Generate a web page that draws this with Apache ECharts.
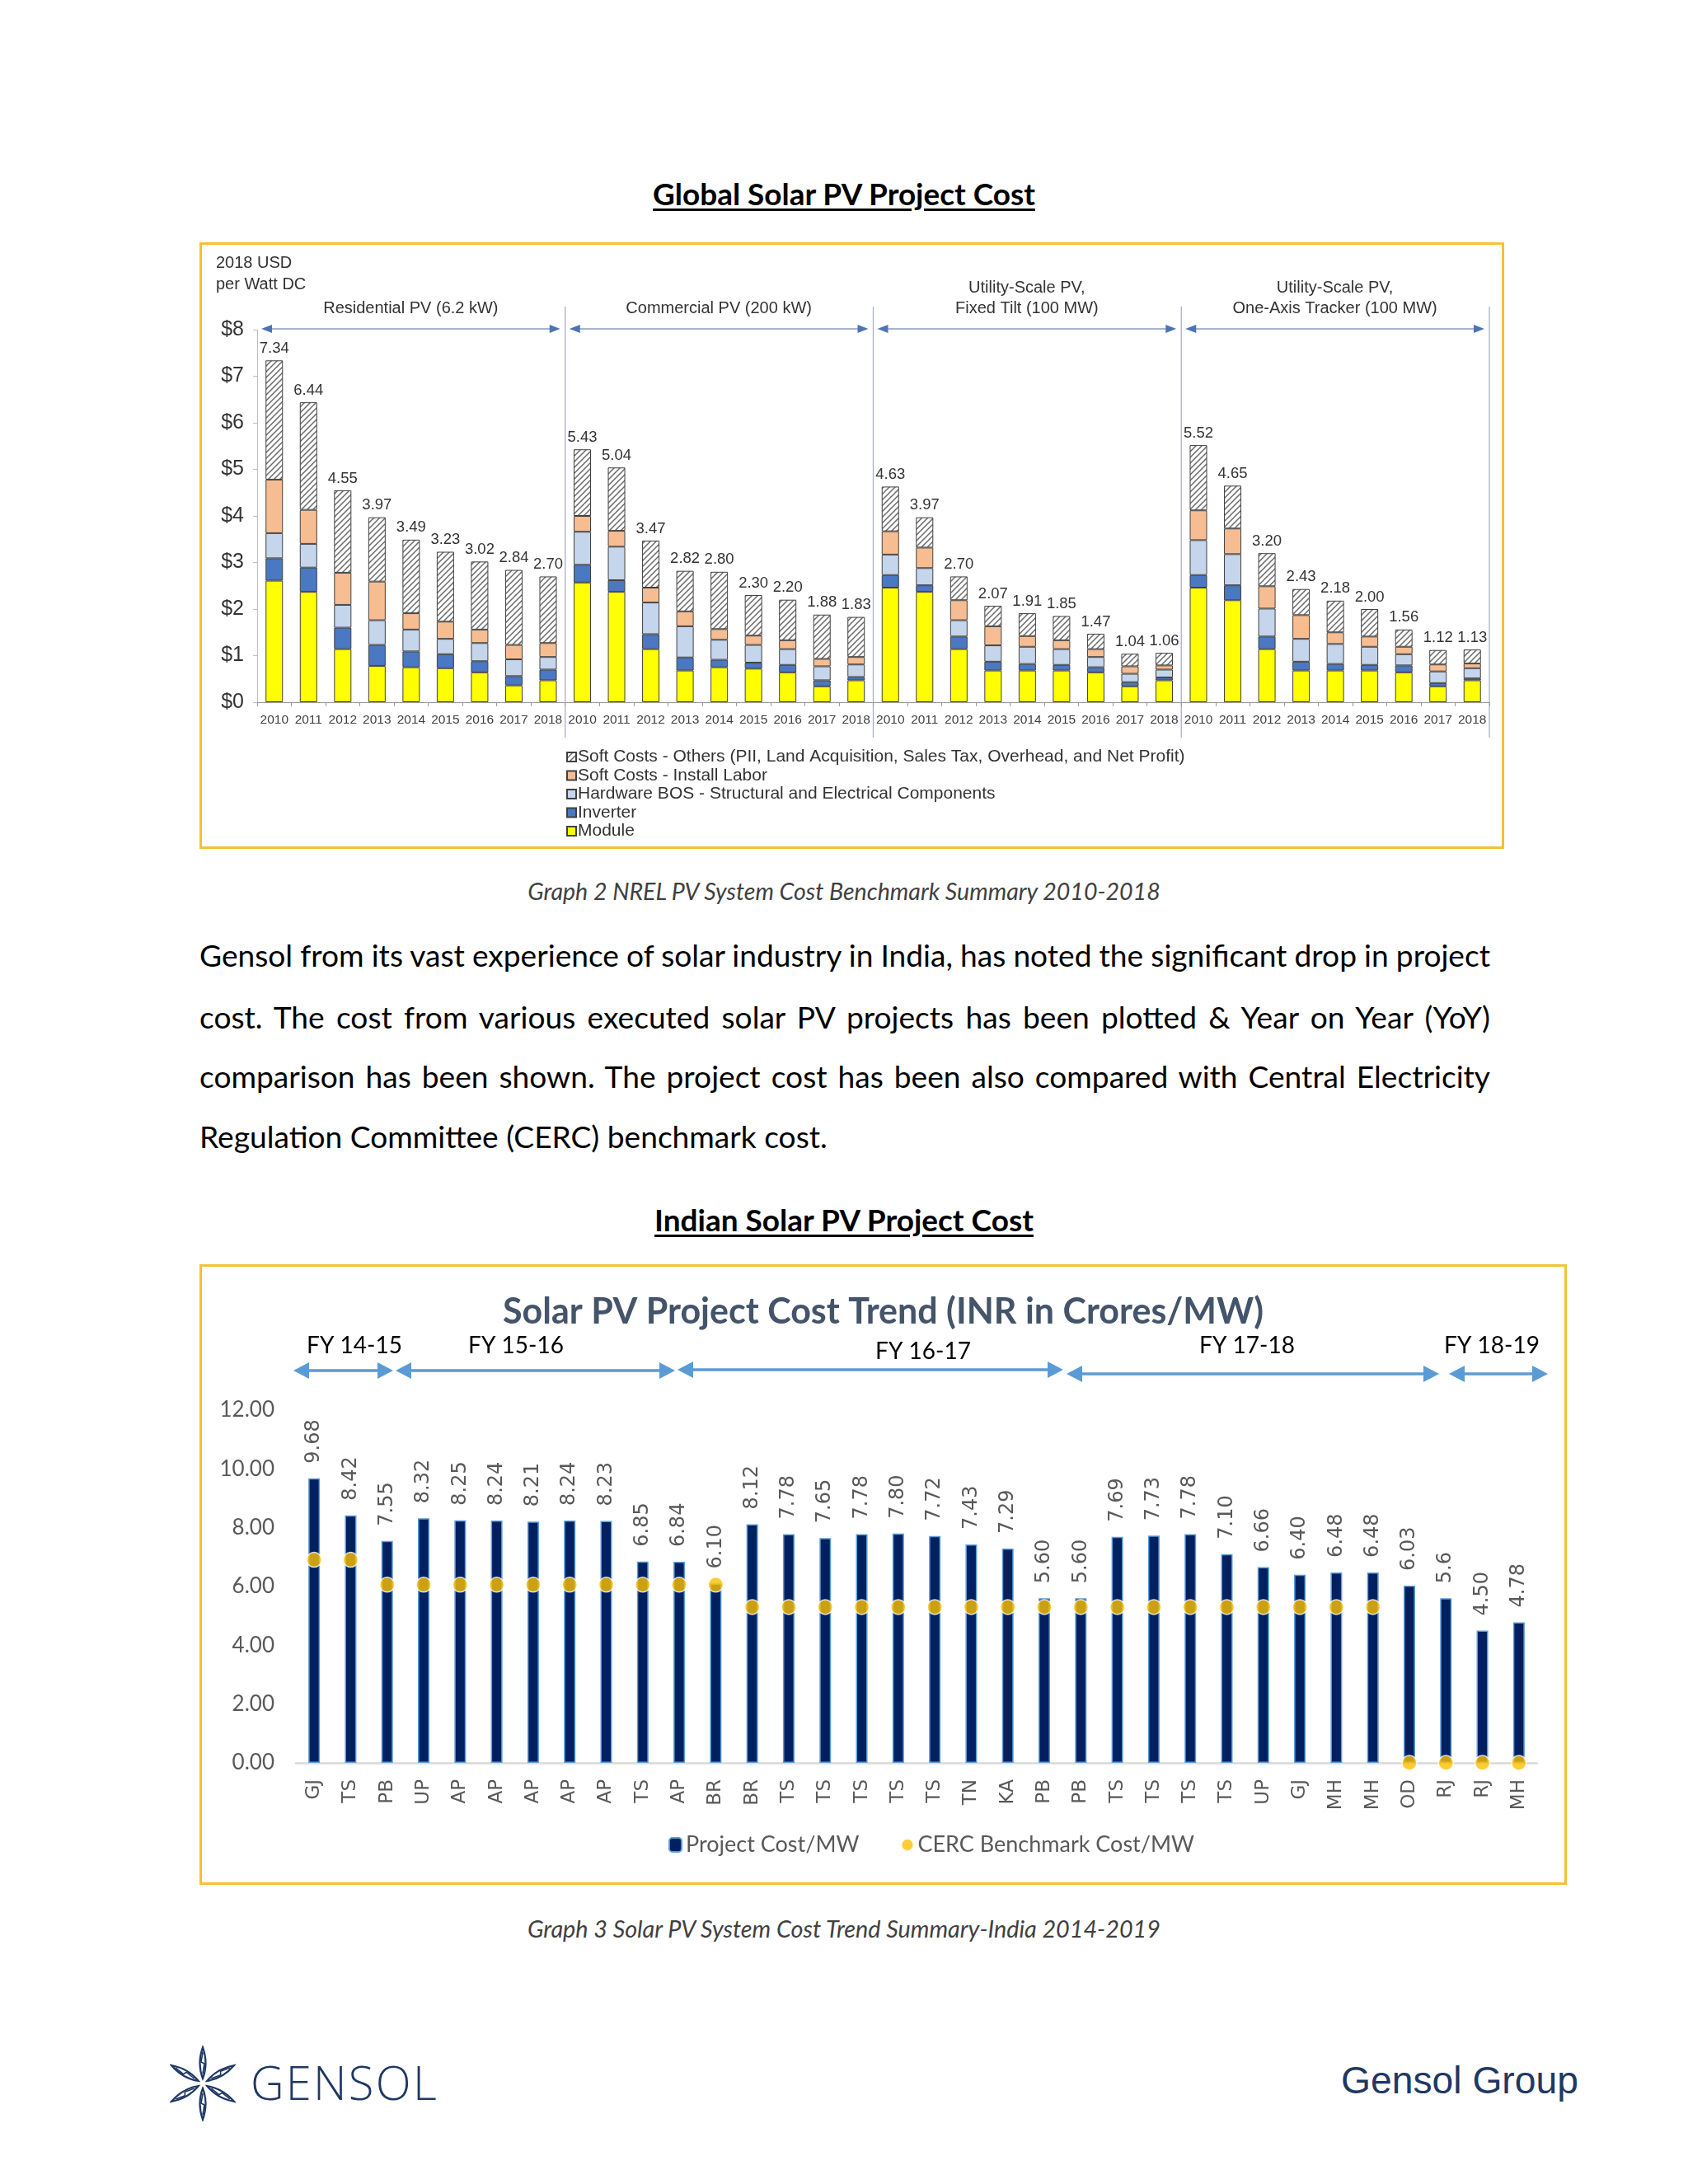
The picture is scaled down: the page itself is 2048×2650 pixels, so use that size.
<!DOCTYPE html>
<html><head><meta charset="utf-8">
<script src="https://cdn.jsdelivr.net/npm/echarts@6/dist/echarts.min.js"></script>
<style>
html,body{margin:0;padding:0;background:#fff;}
body{width:2048px;height:2650px;position:relative;overflow:hidden;}
.abs{position:absolute;}
.frame{position:absolute;border:3px solid #F3C233;box-sizing:border-box;pointer-events:none;}
</style></head>
<body>
<div id="c1" class="abs" style="left:242px;top:294px;width:1583px;height:736px"></div>
<div class="frame" style="left:242px;top:294px;width:1583px;height:736px"></div>
<div id="c2" class="abs" style="left:242px;top:1534px;width:1659px;height:753px"></div>
<div class="frame" style="left:242px;top:1534px;width:1659px;height:753px"></div>
<svg class="abs" style="left:206px;top:2482px" width="80" height="92" viewBox="-40 -46 80 92">
  <g fill="#fff" stroke="#1F3864" stroke-width="2.2">
    <path d="M0,-6 Q7,-24 0,-44 Q-7,-24 0,-6Z"/>
    <path d="M0,-6 Q7,-24 0,-44 Q-7,-24 0,-6Z" transform="rotate(60)"/>
    <path d="M0,-6 Q7,-24 0,-44 Q-7,-24 0,-6Z" transform="rotate(120)"/>
    <path d="M0,-6 Q7,-24 0,-44 Q-7,-24 0,-6Z" transform="rotate(180)"/>
    <path d="M0,-6 Q7,-24 0,-44 Q-7,-24 0,-6Z" transform="rotate(240)"/>
    <path d="M0,-6 Q7,-24 0,-44 Q-7,-24 0,-6Z" transform="rotate(300)"/>
  </g>
  <g fill="none" stroke="#1F3864" stroke-width="1.6">
    <path d="M0,-12 L2,-24 L-2,-26 L0,-38"/>
    <path d="M0,-12 L2,-24 L-2,-26 L0,-38" transform="rotate(60)"/>
    <path d="M0,-12 L2,-24 L-2,-26 L0,-38" transform="rotate(120)"/>
    <path d="M0,-12 L2,-24 L-2,-26 L0,-38" transform="rotate(180)"/>
    <path d="M0,-12 L2,-24 L-2,-26 L0,-38" transform="rotate(240)"/>
    <path d="M0,-12 L2,-24 L-2,-26 L0,-38" transform="rotate(300)"/>
  </g>
</svg>
<script>
// ---------- Top chart data (NREL benchmark, 2018 USD per Watt DC) ----------
const years = ['2010','2011','2012','2013','2014','2015','2016','2017','2018'];
const segmentNames = ['Residential PV (6.2 kW)','Commercial PV (200 kW)','Utility-Scale PV,\nFixed Tilt (100 MW)','Utility-Scale PV,\nOne-Axis Tracker (100 MW)'];
const moduleCost   = [2.61,2.37,1.14,0.78,0.75,0.73,0.64,0.36,0.47, 2.57,2.37,1.14,0.68,0.75,0.72,0.64,0.34,0.47, 2.46,2.37,1.14,0.68,0.68,0.68,0.64,0.34,0.47, 2.46,2.19,1.14,0.68,0.68,0.68,0.64,0.34,0.47];
const inverterCost = [0.48,0.52,0.46,0.45,0.34,0.30,0.24,0.20,0.23, 0.38,0.25,0.32,0.28,0.16,0.13,0.16,0.13,0.07, 0.27,0.14,0.27,0.19,0.14,0.12,0.11,0.09,0.06, 0.27,0.32,0.27,0.19,0.14,0.12,0.15,0.07,0.04];
const bosCost      = [0.54,0.51,0.49,0.53,0.47,0.33,0.39,0.36,0.27, 0.71,0.72,0.68,0.67,0.43,0.38,0.34,0.30,0.27, 0.44,0.37,0.35,0.35,0.37,0.34,0.22,0.18,0.17, 0.75,0.67,0.60,0.49,0.43,0.39,0.24,0.25,0.22];
const laborCost    = [1.15,0.73,0.69,0.83,0.35,0.37,0.29,0.31,0.30, 0.34,0.34,0.32,0.32,0.23,0.20,0.19,0.16,0.16, 0.50,0.44,0.43,0.41,0.23,0.19,0.17,0.16,0.09, 0.64,0.55,0.48,0.51,0.25,0.22,0.16,0.15,0.10];
const otherSoftCost= [2.56,2.31,1.77,1.38,1.58,1.50,1.46,1.61,1.43, 1.43,1.36,1.01,0.87,1.23,0.87,0.87,0.95,0.86, 0.96,0.65,0.51,0.44,0.49,0.52,0.33,0.27,0.27, 1.40,0.92,0.71,0.56,0.68,0.59,0.37,0.31,0.30];
const totalCost    = [7.34,6.44,4.55,3.97,3.49,3.23,3.02,2.84,2.70, 5.43,5.04,3.47,2.82,2.80,2.30,2.20,1.88,1.83, 4.63,3.97,2.70,2.07,1.91,1.85,1.47,1.04,1.06, 5.52,4.65,3.20,2.43,2.18,2.00,1.56,1.12,1.13];
const usdTicks = [0,1,2,3,4,5,6,7,8];
const legendNames1 = ['Soft Costs - Others (PII, Land Acquisition, Sales Tax, Overhead, and Net Profit)','Soft Costs - Install Labor','Hardware BOS - Structural and Electrical Components','Inverter','Module'];

// ---------- Bottom chart data (INR Crores/MW) ----------
const states = ['GJ','TS','PB','UP','AP','AP','AP','AP','AP','TS','AP','BR','BR','TS','TS','TS','TS','TS','TN','KA','PB','PB','TS','TS','TS','TS','UP','GJ','MH','MH','OD','RJ','RJ','MH'];
const projectCost = [9.68,8.42,7.55,8.32,8.25,8.24,8.21,8.24,8.23,6.85,6.84,6.10,8.12,7.78,7.65,7.78,7.80,7.72,7.43,7.29,5.60,5.60,7.69,7.73,7.78,7.10,6.66,6.40,6.48,6.48,6.03,5.6,4.50,4.78];
const projectCostLabels = ['9.68','8.42','7.55','8.32','8.25','8.24','8.21','8.24','8.23','6.85','6.84','6.10','8.12','7.78','7.65','7.78','7.80','7.72','7.43','7.29','5.60','5.60','7.69','7.73','7.78','7.10','6.66','6.40','6.48','6.48','6.03','5.6','4.50','4.78'];
const cercBenchmark = [6.91,6.91,6.06,6.06,6.06,6.06,6.06,6.06,6.06,6.06,6.06,6.06,5.30,5.30,5.30,5.30,5.30,5.30,5.30,5.30,5.30,5.30,5.30,5.30,5.30,5.30,5.30,5.30,5.30,5.30,0,0,0,0];
const fyLabels = ['FY 14-15','FY 15-16','FY 16-17','FY 17-18','FY 18-19'];

// ---------- page text ----------
function addText(txt, o){
  const d=document.createElement('div');
  d.textContent=txt;
  d.style.cssText='position:absolute;white-space:nowrap;line-height:1.2;font-size:100px;font-family:'+o.font+';font-weight:'+(o.weight||400)+';font-style:'+(o.style||'normal')+';color:'+o.color+';letter-spacing:'+(o.ls||0)+'em;';
  document.body.appendChild(d);
  let fs=o.size;
  if(o.w){ const w0=d.getBoundingClientRect().width; fs=100*o.w/w0; }
  d.style.fontSize=fs+'px';
  const r=d.getBoundingClientRect();
  d.style.left=(o.align==='center'? o.x-r.width/2 : o.x)+'px';
  d.style.top=(o.y-r.height/2)+'px';
  if(o.ul){ d.style.textDecoration='underline'; d.style.textUnderlineOffset='0.12em'; }
  return {el:d, fs:fs};
}
addText('Global Solar PV Project Cost',{x:1024,y:235,w:464,font:'Lato',weight:700,color:'#000',align:'center',ul:true});
addText('Graph 2 NREL PV System Cost Benchmark Summary 2010-2018',{x:1024,y:1081,w:768,font:'Lato',style:'italic',color:'#404040',align:'center'});
addText('Indian Solar PV Project Cost',{x:1024,y:1480,w:460,font:'Lato',weight:700,color:'#000',align:'center',ul:true});
addText('Graph 3 Solar PV System Cost Trend Summary-India 2014-2019',{x:1024,y:2340,w:768,font:'Lato',style:'italic',color:'#404040',align:'center'});
addText('GENSOL',{x:304,y:2527,w:228,font:'"Open Sans"',weight:300,color:'#1F3864',ls:0.04});
addText('Gensol Group',{x:1627,y:2525,w:288,font:'"Liberation Sans"',color:'#1F3864'});

const paraLines=['Gensol from its vast experience of solar industry in India, has noted the significant drop in project',
 'cost. The cost from various executed solar PV projects has been plotted & Year on Year (YoY)',
 'comparison has been shown. The project cost has been also compared with Central Electricity',
 'Regulation Committee (CERC) benchmark cost.'];
const paraY=[1159,1234,1306,1379];
(function(){
  const last=addText(paraLines[3],{x:242,y:paraY[3],w:762,font:'Lato',color:'#000'});
  const fs=last.fs;
  for(let i=0;i<3;i++){
    const t=addText(paraLines[i],{x:242,y:paraY[i],size:fs,font:'Lato',color:'#000'});
    const w=t.el.getBoundingClientRect().width;
    const n=(paraLines[i].match(/ /g)||[]).length;
    t.el.style.wordSpacing=((1566-w)/n)+'px';
  }
})();

// ---------- Top chart ----------
function hatchCanvas(){
  const c=document.createElement('canvas'); c.width=7; c.height=7;
  const g=c.getContext('2d'); g.fillStyle='#fff'; g.fillRect(0,0,7,7);
  g.strokeStyle='#6a6a6a'; g.lineWidth=1.5; g.beginPath();
  g.moveTo(0,7); g.lineTo(7,0); g.moveTo(-1,1); g.lineTo(1,-1); g.moveTo(6,8); g.lineTo(8,6); g.stroke();
  return c;
}
const hatch={image:hatchCanvas(),repeat:'repeat'};
const G1={left:70,top:106,width:1495,height:452};
const step1=G1.width/36;
const cats1=[].concat(years,years,years,years);
const F1='"Liberation Sans", Arial, sans-serif';
const segStyle=(c)=>({color:c,borderColor:'#404040',borderWidth:1});
const gfx1=[];
gfx1.push({type:'text',x:20,y:12,style:{text:'2018 USD\nper Watt DC',fontSize:20,fontFamily:F1,fill:'#333',align:'left',verticalAlign:'top',lineHeight:26},silent:true});
[9,18,27,36].forEach(k=>{
  const x=G1.left+k*step1;
  gfx1.push({type:'line',shape:{x1:x,y1:78,x2:x,y2:601},style:{stroke:'#A9B1C2',lineWidth:1.3},silent:true});
});
segmentNames.forEach((nm,g)=>{
  const xl=G1.left+g*9*step1+5, xr=G1.left+(g+1)*9*step1-6, y=105;
  gfx1.push({type:'line',shape:{x1:xl+6,y1:y,x2:xr-6,y2:y},style:{stroke:'#A5B4CF',lineWidth:2},silent:true});
  gfx1.push({type:'polygon',shape:{points:[[xl,y],[xl+13,y-5],[xl+13,y+5]]},style:{fill:'#4C74B5'},silent:true});
  gfx1.push({type:'polygon',shape:{points:[[xr,y],[xr-13,y-5],[xr-13,y+5]]},style:{fill:'#4C74B5'},silent:true});
  gfx1.push({type:'text',x:(xl+xr)/2,y:93,style:{text:nm,fontSize:20,fontFamily:F1,fill:'#333',align:'center',verticalAlign:'bottom',lineHeight:25},silent:true});
});
const c1=echarts.init(document.getElementById('c1'),null,{renderer:'canvas'});
c1.setOption({
  animation:false,
  backgroundColor:'#fff',
  grid:G1,
  legend:{orient:'vertical',left:440,top:609,itemWidth:11,itemHeight:11,itemGap:1.5,icon:'rect',
    data:legendNames1,textStyle:{fontFamily:F1,fontSize:21,color:'#333',lineHeight:21,padding:[0,0,0,-3]}},
  xAxis:{type:'category',data:cats1,
    axisLine:{lineStyle:{color:'#9a9a9a',width:1.2}},
    axisTick:{show:true,interval:0,length:5,lineStyle:{color:'#9a9a9a'}},
    axisLabel:{interval:0,fontFamily:F1,fontSize:15.5,color:'#404040',margin:14}},
  yAxis:{type:'value',min:usdTicks[0],max:usdTicks[usdTicks.length-1],interval:1,
    axisLine:{show:true,lineStyle:{color:'#bfbfbf'}},axisTick:{show:true,length:5,lineStyle:{color:'#bfbfbf'}},
    splitLine:{show:false},
    axisLabel:{formatter:v=>'$'+v,fontFamily:F1,fontSize:25,color:'#333',margin:16}},
  series:[
    {name:legendNames1[4],type:'bar',stack:'s',barWidth:21,data:moduleCost,itemStyle:segStyle('#FFFF00')},
    {name:legendNames1[3],type:'bar',stack:'s',data:inverterCost,itemStyle:segStyle('#4A78C2')},
    {name:legendNames1[2],type:'bar',stack:'s',data:bosCost,itemStyle:segStyle('#C5D5EB')},
    {name:legendNames1[1],type:'bar',stack:'s',data:laborCost,itemStyle:segStyle('#F7BD92')},
    {name:legendNames1[0],type:'bar',stack:'s',data:otherSoftCost,itemStyle:{color:hatch,borderColor:'#404040',borderWidth:1},
      label:{show:true,position:'top',distance:5,formatter:p=>totalCost[p.dataIndex].toFixed(2),fontFamily:F1,fontSize:18.5,color:'#333'}}
  ],
  graphic:gfx1
});

// ---------- Bottom chart ----------
const G2={left:117,top:177,width:1506,height:428};
const gfx2=[];
const fyPos=[[188,99],[384,99],[878,106],[1271,99],[1568,99]];
fyLabels.forEach((t,i)=>gfx2.push({type:'text',x:fyPos[i][0],y:fyPos[i][1],style:{text:t,fontFamily:'Lato',fontSize:28,fill:'#000',align:'center',verticalAlign:'middle'},silent:true}));
const arrows2=[[114,235,129],[238,577,129],[580,1048,128],[1052,1504,133],[1516,1636,133]];
arrows2.forEach(a=>{
  const [xl,xr,y]=a;
  gfx2.push({type:'line',shape:{x1:xl+10,y1:y,x2:xr-10,y2:y},style:{stroke:'#5B9BD5',lineWidth:3.5},silent:true});
  gfx2.push({type:'polygon',shape:{points:[[xl,y],[xl+19,y-10],[xl+19,y+10]]},style:{fill:'#5B9BD5'},silent:true});
  gfx2.push({type:'polygon',shape:{points:[[xr,y],[xr-19,y-10],[xr-19,y+10]]},style:{fill:'#5B9BD5'},silent:true});
});
const c2=echarts.init(document.getElementById('c2'),null,{renderer:'canvas'});
c2.setOption({
  animation:false,
  backgroundColor:'#fff',
  title:{text:'Solar PV Project Cost Trend (INR in Crores/MW)',left:'center',top:32,
    textStyle:{fontFamily:'Lato',fontWeight:'bold',fontSize:43,color:'#44546A'}},
  grid:G2,
  legend:{left:564,top:686,itemWidth:15,itemHeight:17,itemGap:50,
    data:['Project Cost/MW','CERC Benchmark Cost/MW'],
    textStyle:{fontFamily:'Lato',fontSize:27,color:'#595959'}},
  xAxis:{type:'category',data:states,
    axisLine:{lineStyle:{color:'#D9D9D9',width:2.5}},axisTick:{show:false},
    axisLabel:{interval:0,rotate:90,fontFamily:'"DejaVu Sans"',fontSize:23,color:'#595959',margin:20}},
  yAxis:{type:'value',min:0,max:12,interval:2,splitLine:{show:false},axisLine:{show:false},axisTick:{show:false},
    axisLabel:{formatter:v=>v.toFixed(2),fontFamily:'Lato',fontSize:26,color:'#595959',margin:26}},
  series:[
    {name:'Project Cost/MW',type:'bar',barWidth:14,data:projectCost,
      itemStyle:{color:'#002060',borderColor:'#5B9BD5',borderWidth:1.5},
      label:{show:true,position:'top',rotate:90,align:'left',verticalAlign:'middle',distance:18,
        formatter:p=>projectCostLabels[p.dataIndex],fontFamily:'"DejaVu Sans"',fontSize:24,color:'#595959'}},
    {name:'CERC Benchmark Cost/MW',type:'scatter',symbol:'circle',symbolSize:18,data:cercBenchmark,z:5,
      itemStyle:{color:'#FFC000',borderColor:'#FFFFFF',borderWidth:1.5}}
  ],
  graphic:gfx2
});
</script>
</body></html>
